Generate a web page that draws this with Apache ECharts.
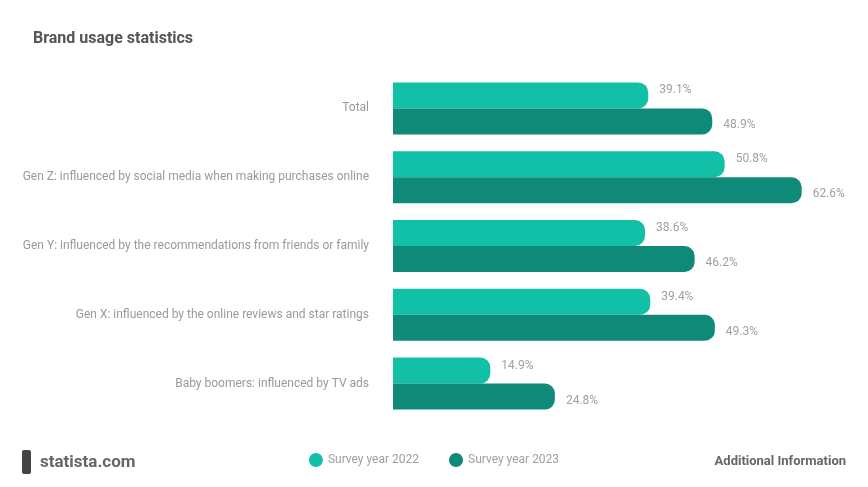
<!DOCTYPE html>
<html>
<head>
<meta charset="utf-8">
<script src="https://cdn.jsdelivr.net/npm/echarts@6/dist/echarts.min.js"></script>
<style>
html,body{margin:0;padding:0;background:#fff;}
#c{width:868px;height:487px;}
</style>
</head>
<body>
<div id="c"></div>
<script>
const titleText = "Brand usage statistics";
const categories = [
  "Total",
  "Gen Z: influenced by social media when making purchases online",
  "Gen Y: influenced by the recommendations from friends or family",
  "Gen X: influenced by the online reviews and star ratings",
  "Baby boomers: influenced by TV ads"
];
const seriesNames = ["Survey year 2022", "Survey year 2023"];
const lightValues = [39.1, 50.8, 38.6, 39.4, 14.9];
const darkValues = [48.9, 62.6, 46.2, 49.3, 24.8];

const chart = echarts.init(document.getElementById('c'));
const lbl = {
  show: true, position: 'right', distance: 11,
  color: '#a0a0a0', fontSize: 12, fontFamily: 'Roboto',
  formatter: p => p.value.toFixed(1) + '%'
};
chart.setOption({
  animation: false,
  title: {
    text: titleText, left: 28, top: 26,
    textStyle: {fontSize: 16, fontWeight: 'bold', color: '#555', fontFamily: 'Roboto'}
  },
  legend: {
    top: 448, left: 'center', itemGap: 30,
    icon: 'circle', itemWidth: 14, itemHeight: 14,
    textStyle: {color: '#a0a0a0', fontSize: 12, fontFamily: 'Roboto'},
    data: seriesNames
  },
  grid: {left: 393, right: 18, top: 74, bottom: 69, containLabel: false},
  xAxis: {
    type: 'value', min: 0, max: 70, show: false
  },
  yAxis: {
    type: 'category', inverse: true, data: categories,
    axisLine: {show: false}, axisTick: {show: false},
    axisLabel: {color: '#9a9a9a', fontSize: 12, margin: 24, fontFamily: 'Roboto'}
  },
  series: [
    {
      name: seriesNames[0], type: 'bar', data: lightValues,
      barWidth: 26, barGap: '0%',
      itemStyle: {color: '#12bfa7', borderRadius: [0, 10, 10, 0]},
      label: Object.assign({}, lbl, {offset: [0, -5]})
    },
    {
      name: seriesNames[1], type: 'bar', data: darkValues,
      barWidth: 26,
      itemStyle: {color: '#0f8a79', borderRadius: [0, 10, 10, 0]},
      label: Object.assign({}, lbl, {offset: [0, 4]})
    }
  ],
  graphic: [
    {type: 'rect', left: 22, top: 450, shape: {width: 9, height: 24, r: 2}, style: {fill: '#444'}},
    {type: 'text', left: 40, top: 454, style: {text: 'statista.com', fill: '#666', font: 'bold 17px Roboto'}},
    {type: 'text', right: 22, top: 455, style: {text: 'Additional Information', fill: '#666', font: 'bold 13px Roboto'}}
  ]
});
</script>
</body>
</html>
